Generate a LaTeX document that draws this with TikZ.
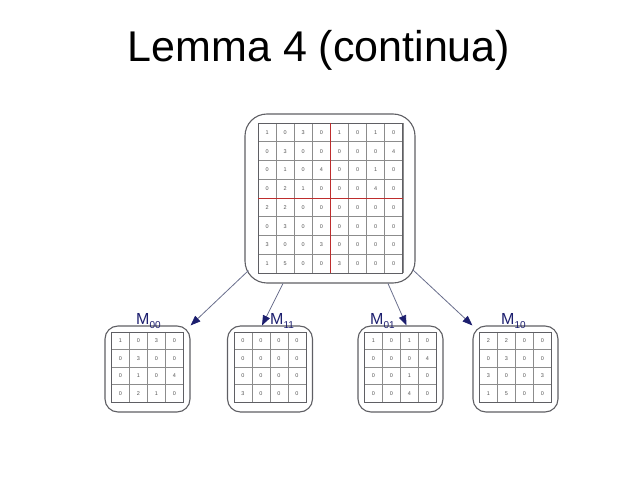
\documentclass[tikz,border=0pt]{standalone}
\usepackage{fontspec}
\setmainfont{Liberation Sans}
\usetikzlibrary{arrows.meta,calc}

\definecolor{navy}{RGB}{28,30,110}
\definecolor{boxgray}{RGB}{95,95,100}
\definecolor{gridgray}{RGB}{140,140,140}
\definecolor{splitred}{RGB}{190,45,45}
\definecolor{numgray}{RGB}{85,85,85}
\definecolor{linkgray}{RGB}{105,110,140}

% numbers in a grid: name, x left, y top, cell width, cell height, size, rows
\newcommand{\numgrid}[7]{%
  \foreach \i in {0,...,#6} {
    \draw[gridline] (#2+\i*#4, #3) -- (#2+\i*#4, #3+#6*#5);
    \draw[gridline] (#2, #3+\i*#5) -- (#2+#6*#4, #3+\i*#5);
  }
  \draw[gridborder] (#2,#3) rectangle (#2+#6*#4, #3+#6*#5);
  \foreach \row [count=\r] in {#7} {
    \foreach \v [count=\c] in \row {
      \node[num] (#1-\r-\c) at (#2+\c*#4-0.5*#4, #3+\r*#5-0.5*#5) {\v};
    }
  }
}

\begin{document}
\begin{tikzpicture}[x=1pt, y=-1pt,
    bigbox/.style={draw=boxgray, line width=1.1pt, rounded corners=22pt,
      minimum width=170pt, minimum height=169pt, inner sep=0pt},
    smallbox/.style={draw=boxgray, line width=1.1pt, rounded corners=13pt,
      minimum width=85pt, minimum height=86pt, inner sep=0pt},
    gridline/.style={gridgray, line width=0.6pt},
    gridborder/.style={boxgray, line width=0.9pt},
    num/.style={font=\fontsize{5.5}{6}\selectfont, text=numgray, inner sep=0pt},
    lab/.style={font=\fontsize{16}{16}\selectfont, text=navy, inner sep=0pt, anchor=base west},
    link/.style={linkgray, line width=0.8pt, -{Triangle[length=10pt,width=7.5pt,color=navy]}}]

        \useasboundingbox (0,0) rectangle (638,478);

        \node[font=\fontsize{43}{43}\selectfont, anchor=base] (title) at (319,62) {Lemma 4 (continua)};

        % whole matrix

        \node[bigbox] (big) at (330,198.5) {};
        \numgrid{b}{258}{123}{18.1}{18.75}{8}{{1,0,3,0,1,0,1,0},{0,3,0,0,0,0,0,4},{0,1,0,4,0,0,1,0},{0,2,1,0,0,0,4,0},{2,2,0,0,0,0,0,0},{0,3,0,0,0,0,0,0},{3,0,0,3,0,0,0,0},{1,5,0,0,3,0,0,0}}

        \draw[splitred, line width=0.9pt] (330.4,123) -- (330.4,273); % vertical split
        \draw[splitred, line width=0.9pt] (258,198) -- (402.8,198); % horizontal split

        % blocks

        \node[smallbox] (m00) at (147.5,369) {};
        \numgrid{a}{111.5}{332}{18}{17.5}{4}{{1,0,3,0},{0,3,0,0},{0,1,0,4},{0,2,1,0}}
        \node[lab] (lab00) at (136,325) {M\raisebox{-4pt}{\fontsize{10}{10}\selectfont 00}};

        \node[smallbox] (m11) at (270,369) {};
        \numgrid{d}{234}{332}{18}{17.5}{4}{{0,0,0,0},{0,0,0,0},{0,0,0,0},{3,0,0,0}}
        \node[lab] (lab11) at (270,325) {M\raisebox{-4pt}{\fontsize{10}{10}\selectfont 11}};

        \node[smallbox] (m01) at (400.5,369) {};
        \numgrid{c}{364.5}{332}{18}{17.5}{4}{{1,0,1,0},{0,0,0,4},{0,0,1,0},{0,0,4,0}}
        \node[lab] (lab01) at (370,325) {M\raisebox{-4pt}{\fontsize{10}{10}\selectfont 01}};

        \node[smallbox] (m10) at (515.5,369) {};
        \numgrid{e}{479.5}{332}{18}{17.5}{4}{{2,2,0,0},{0,3,0,0},{3,0,0,3},{1,5,0,0}}
        \node[lab] (lab10) at (501,325) {M\raisebox{-4pt}{\fontsize{10}{10}\selectfont 10}};

        % arrows

        \draw[link] ($(big.south west)+(4,-13)$) -- (m00.north east);
        \draw[link] ($(big.south)+(-47,0)$) -- ($(m11.north)+(-8,0)$);
        \draw[link] ($(big.south)+(58,0)$) -- ($(m01.north)+(6,0)$);
        \draw[link] ($(big.south east)+(-3,-14)$) -- (m10.north west);

    \end{tikzpicture}
\end{document}
